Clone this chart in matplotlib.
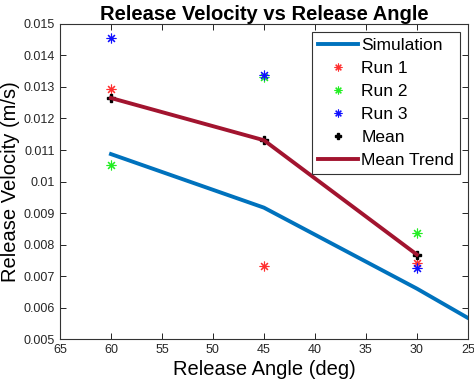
import matplotlib.pyplot as plt
import numpy as np

plt.rcParams['font.family'] = ['Liberation Sans', 'DejaVu Sans']

# simulation curve
sim_angle = [60, 45, 30, 25]
sim_vel = [0.01087, 0.00917, 0.00660, 0.00567]

# experimental runs
angles = [60, 45, 30]
run1 = [0.01293, 0.00733, 0.00742]
run2 = [0.01053, 0.01332, 0.00835]
run3 = [0.01455, 0.01337, 0.00727]
mean_vel = [0.01265, 0.01131, 0.00768]

yticks = [0.005, 0.006, 0.007, 0.008, 0.009, 0.01, 0.011, 0.012, 0.013, 0.014, 0.015]

fig = plt.figure(figsize=(4.74, 3.87), dpi=100)
ax = fig.add_axes([0.1266, 0.124, 0.8604, 0.814])

ast = (8, 2, 0)  # matlab style asterisk
ax.plot(sim_angle, sim_vel, color='#0072BD', lw=2.8, label='Simulation')
ax.plot(angles, run1, marker=ast, color='#FF3030', ms=7, mew=0.8, ls='none', label='Run 1')
ax.plot(angles, run2, marker=ast, color='#22EE22', ms=7, mew=0.8, ls='none', label='Run 2')
ax.plot(angles, run3, marker=ast, color='#1010FF', ms=7, mew=0.8, ls='none', label='Run 3')
ax.plot(angles, mean_vel, 'P', color='black', ms=6, ls='none', label='Mean')
ax.plot(angles, mean_vel, color='#A2142F', lw=2.8, label='Mean Trend')

ax.set_xlim(65, 25)
ax.set_ylim(0.005, 0.015)
ax.set_xticks(np.arange(65, 24, -5))
ax.set_yticks(yticks)
ax.set_yticklabels([('%.3f' % v).rstrip('0') for v in yticks])
ax.tick_params(direction='in', top=True, right=True, labelsize=9, length=4, width=0.6,
               labelcolor='#262626')
for s in ax.spines.values():
    s.set_linewidth(0.8)
    s.set_color('#333333')

ax.set_xlabel('Release Angle (deg)', fontsize=14.5, labelpad=3)
ax.set_ylabel('Release Velocity (m/s)', fontsize=14.5, labelpad=3)
ax.set_title('Release Velocity vs Release Angle', fontsize=14.5, fontweight='bold', pad=3)

leg = ax.legend(loc='upper right', fontsize=12.5, fancybox=False, edgecolor='#333333',
                framealpha=1, handlelength=2.3, handletextpad=0.2, labelspacing=0.45,
                borderpad=0.35, borderaxespad=0.45, markerscale=0.8)
leg.get_frame().set_linewidth(0.8)

fig.savefig('out.png', dpi=100)
